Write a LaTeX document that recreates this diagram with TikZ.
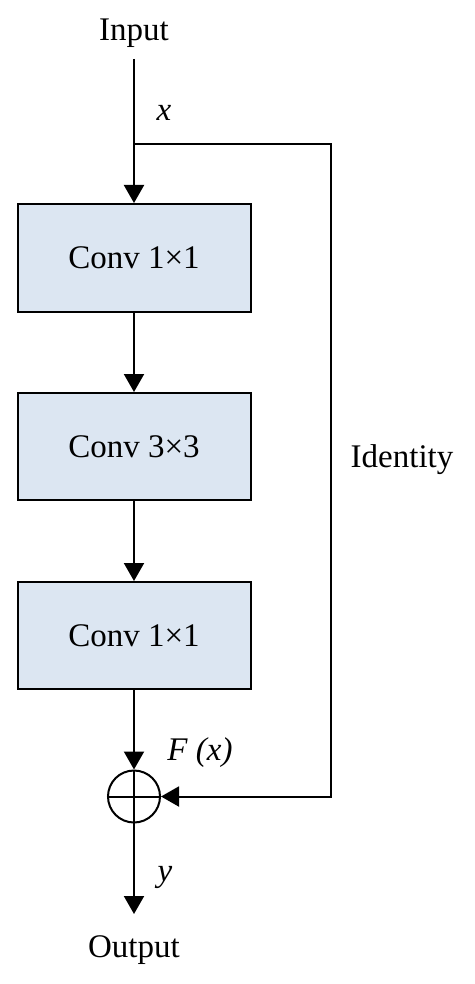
\documentclass[tikz,border=0pt]{standalone}
\usepackage{fontspec}
\setmainfont{Liberation Serif}
\usetikzlibrary{arrows.meta}
\definecolor{boxfill}{HTML}{DCE6F2}
\begin{document}
\begin{tikzpicture}[x=1pt,y=-1pt,
  every node/.style={font=\fontsize{33}{36}\selectfont},
  convbox/.style={draw, line width=2pt, fill=boxfill, minimum width=233pt, minimum height=107pt, inner sep=0pt},
  lbl/.style={inner sep=0pt},
  conn/.style={line width=2pt},
  arr/.style={conn, -{Triangle[width=20pt,length=18pt]}}]
\useasboundingbox (0,0) rectangle (474,984);
\node[lbl] (in) at (134,33) {Input};
\coordinate (top) at (134,59);
\coordinate (br) at (134,144);
\coordinate (c1) at (331,144);
\node[convbox, minimum height=108pt] (b1) at (134,258) {Conv 1×1};
\node[convbox] (b2) at (134,446.5) {Conv 3×3};
\node[convbox] (b3) at (134,635.5) {Conv 1×1};
\node[draw, circle, line width=2pt, minimum size=52pt, inner sep=0pt] (sum) at (134,796.5) {};
\coordinate (c2) at (331,796.5);
\coordinate (out) at (134,914);
\node[lbl] (outt) at (134,950) {Output};
\node[lbl] (xl) at (164,113) {\itshape x};
\node[lbl] (fl) at (200,753) {\itshape F (x)};
\node[lbl] (yl) at (165,877) {\itshape y};
\node[lbl] (id) at (402,460) {Identity};
\draw[arr] (top) -- (b1.north);
\draw[arr] (b1.south) -- (b2.north);
\draw[arr] (b2.south) -- (b3.north);
\draw[arr] (b3.south) -- (sum.north);
\draw[conn] (sum.north) -- (sum.south);
\draw[conn] (sum.west) -- (sum.east);
\draw[arr] (br) -- (c1) -- (c2) -- (sum.east);
\draw[arr] (sum.south) -- (out);
\end{tikzpicture}
\end{document}
